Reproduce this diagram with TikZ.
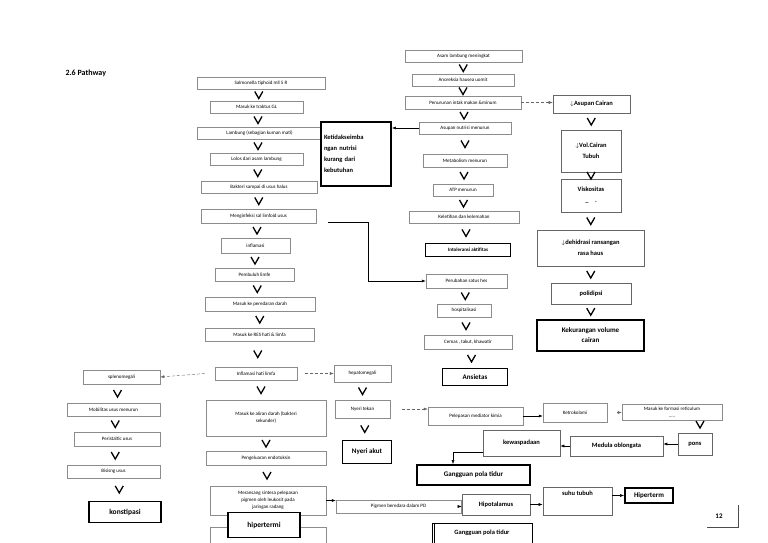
\documentclass[tikz,border=0pt]{standalone}
\usepackage{fontspec}
\setmainfont{Carlito}
\usetikzlibrary{arrows.meta,calc}
\begin{document}
\begin{tikzpicture}[x=1pt,y=-1pt,
 box/.style={draw=black!45,line width=0.5pt,fill=white,inner sep=1pt,align=center,font=\fontsize{5}{7}\selectfont},
 tbox/.style={draw=black,line width=1.8pt,fill=white,inner sep=1pt,align=center,font=\fontsize{7}{10}\selectfont\bfseries},
 rbox/.style={draw=black!60,line width=0.6pt,fill=white,inner sep=1pt,align=center,font=\fontsize{6.5}{11}\selectfont\bfseries},
 chevline/.style={line width=1.3pt,line join=miter},
 arr/.style={line width=0.5pt,-{Latex[length=4pt,width=3pt]}},
 darr/.style={line width=0.4pt,densely dashed,black!60,-{Latex[length=4pt,width=3pt]}}]
\useasboundingbox (0,0) rectangle (768,543);
\newcommand\bx[7]{\node[#1,minimum width={(#5-#3)*1pt},minimum height={(#6-#4)*1pt}] (#2) at ({(#3+#5)/2},{(#4+#6)/2}) {#7};}
\newcommand\chv[2]{\draw[chevline] ($($(#1.south)!0.5!(#2.north)$)+(-4,-3.5)$) -- ($($(#1.south)!0.5!(#2.north)$)+(0,3.5)$) -- ($($(#1.south)!0.5!(#2.north)$)+(4,-3.5)$);}
\node[font=\fontsize{8}{10}\selectfont\bfseries,anchor=west] (title) at (62,73) {2.6 Pathway};
% left column
\bx{box}{a1}{197}{77}{325}{89}{Salmonella tiphoid mll 5 R}
\bx{box}{a2}{210}{101}{303}{113}{Masuk ke traktus GL}
\bx{box}{a3}{197}{127}{322}{139}{Lambung (sebagian kuman mati)}
\bx{box}{a4}{210}{153}{303}{165}{Lolos dari asam lambung}
\bx{box}{a5}{201}{181}{317}{193}{Bakteri sampai di usus halus}
\bx{box}{a6}{201}{209}{316}{223}{Menginfeksi sal limfoid usus}
\bx{box}{a7}{221}{238}{290}{253}{inflamasi}
\bx{box}{a8}{215}{268}{294}{281}{Pembuluh limfe}
\bx{box}{a9}{205}{297}{315}{311}{Masuk ke peredaran darah}
\bx{box}{a10}{205}{328}{314}{341}{Masuk ke RES hati \& limfa}
\bx{box}{a11}{215}{367}{297}{380}{Inflamasi hati limfa}
\foreach \i/\j in {a1/a2,a2/a3,a3/a4,a4/a5,a5/a6,a6/a7,a7/a8,a8/a9,a9/a10,a10/a11} {\chv{\i}{\j}}
\node[tbox,minimum width=70pt,minimum height=64pt,align=left,text width=64pt,font=\fontsize{6.5}{11}\selectfont\bfseries] (k) at (356,154) {Ketidakseimba\\ngan nutrisi\\kurang dari\\kebutuhan};
% middle column
\bx{box}{b1}{405}{50}{522}{62}{Asam lambung meningkat}
\bx{box}{b2}{412}{74}{514}{86}{Anoreksia hausea uomit}
\bx{box}{b3}{405}{96}{521}{109}{Penurunan intak makan \&minum}
\bx{box}{b4}{419}{122}{511}{134}{Asupan nutrisi menurun}
\bx{box}{b5}{423}{154}{507}{167}{Metabolism menurun}
\bx{box}{b6}{433}{184}{493}{196}{ATP menurun}
\bx{box}{b7}{409}{211}{519}{223}{Keletihan dan kelemahan}
\node[tbox,minimum width=85pt,minimum height=13pt,font=\fontsize{5}{7}\selectfont\bfseries] (b8) at (468,250) {Intoleransi aktifitas};
\bx{box}{b9}{426}{274}{507}{288}{Perubahan satus hes}
\bx{box}{b10}{437}{304}{491}{317}{hospitalisasi}
\bx{box}{b11}{424}{335}{512}{349}{Cemas , takut, khawatir}
\node[tbox,minimum width=65pt,minimum height=17pt] (b12) at (475,377) {Ansietas};
\foreach \i/\j in {b1/b2,b2/b3,b3/b4,b4/b5,b5/b6,b6/b7,b7/b8,b9/b10,b10/b11,b11/b12} {\chv{\i}{\j}}
\draw[arr] (b4.west) -- (k.east|-b4.west);
\coordinate (m1) at (368,222);
\draw[arr] (a6.east|-m1) ++(12,0) -- (m1) |- (b9.west);
% right column
\bx{rbox}{c1}{553}{95}{630}{113}{$\downarrow$Asupan Cairan}
\bx{rbox}{c2}{561}{130}{621}{172}{$\downarrow$Vol.Cairan\\Tubuh}
\bx{rbox}{c3}{561}{179}{621}{212}{Viskositas\\\_\quad .}
\bx{rbox}{c4}{537}{230}{644}{266}{$\downarrow$dehidrasi ransangan\\rasa haus}
\bx{rbox}{c5}{551}{283}{631}{304}{polidipsi}
\node[tbox,minimum width=107pt,minimum height=31pt] (c6) at (590.5,335.5) {Kekurangan volume\\cairan};
\foreach \i/\j in {c1/c2,c2/c3,c3/c4,c4/c5,c5/c6} {\chv{\i}{\j}}
\draw[darr] (b3.east) -- (c1.west|-b3.east);
% lower left
\bx{box}{d1}{83}{370}{160}{384}{splenomegali}
\bx{box}{d2}{67}{403}{160}{416}{Mobilitas usus menurun}
\bx{box}{d3}{74}{432}{160}{446}{Peristaltic usus}
\bx{box}{d4}{67}{465}{160}{478}{Bisisng usus}
\node[tbox,minimum width=72pt,minimum height=21pt,font=\fontsize{7.5}{10}\selectfont\bfseries] (d5) at (125,512) {konstipasi};
\foreach \i/\j in {d1/d2,d2/d3,d3/d4,d4/d5} {\chv{\i}{\j}}
\draw[darr] (a11.west) ++(-10,0) -- (d1.east);
% lower middle
\bx{box}{e1}{206}{400}{326}{436}{Masuk ke aliran darah (bakteri\\sekunder)}
\bx{box}{e2}{206}{451}{326}{465}{Pengeluaran endotoksin}
\bx{box}{e3}{210}{486}{326}{515}{Meransang sintesa pelepasan\\pigmen oleh leukosit pada\\jaringan radang}
\bx{box}{e4}{210}{527}{326}{548}{}
\node[tbox,minimum width=72pt,minimum height=25pt,font=\fontsize{7.5}{10}\selectfont\bfseries] (e5) at (264,525) {hipertermi};
\chv{a11}{e1}
\chv{e1}{e2}
\chv{e2}{e3}
\bx{box}{f1}{334}{365}{391}{382}{hepatomegali}
\bx{box}{f2}{335}{400}{390}{418}{Nyeri tekan}
\node[tbox,minimum width=49pt,minimum height=23pt] (f3) at (367,452) {Nyeri akut};
\draw[darr] (a11.east) ++(8,0) -- (f1.west|-a11.east);
\chv{f1}{f2}
\chv{f2}{f3}
% lower right
\bx{box}{g1}{428}{407}{523}{425}{Pelepasan mediator kimia}
\bx{box}{g2}{543}{403}{607}{422}{Ketrokolami}
\bx{box}{g3}{622}{404}{722}{420}{Masuk ke formasi reticulum\\.....}
\bx{rbox}{g4}{678}{433}{712}{455}{pons}
\bx{rbox}{g5}{570}{436}{663}{456}{Medula oblongata}
\bx{rbox}{g6}{483}{430}{560}{456}{kewaspadaan}
\node[tbox,minimum width=113pt,minimum height=20pt] (g7) at (473.5,475) {Gangguan pola tidur};
\draw[darr] (f2.east) ++(12,0) -- (g1.west|-f2.east);
\draw[arr] (g1.east) -- (g2.west|-g1.east);
\draw[darr] (g2.east) ++(10,0) -- (g3.west|-g2.east);
\draw[chevline] (696,421) -- (700,428) -- (704,421);
\draw[arr] (g4.west) -- (g5.east|-g4.west);
\draw[arr] (g5.west) -- (g6.east|-g5.west);
\coordinate (m2) at (453,452);
\draw[arr] (g6.west|-m2) -- (m2) -- (m2|-g7.north);
\bx{box}{h1}{336}{500}{461}{513}{Pigmen beredara dalam PD}
\bx{rbox}{h2}{462}{494}{530}{515}{Hipotalamus}
\node[rbox,minimum width=69pt,minimum height=28pt,anchor=north,inner sep=3pt] (h3) at (577.5,487) {suhu tubuh\\[5pt]};
\node[tbox,minimum width=48pt,minimum height=15pt] (h4) at (649,495.5) {Hiperterm};
\node[rbox,draw=black,line width=1pt,minimum width=100pt,minimum height=20pt] (h5) at (482,533) {Gangguan pola tidur};
\draw[line width=0.8pt] ([xshift=2.5pt]h5.north west) -- ([xshift=2.5pt]h5.south west);
\draw[arr] (e3.east) -- (h1.west|-e3.east);
\draw[arr] (h1.east) -- (h2.west|-h1.east);
\draw[arr] (h2.east) -- (h3.west|-h2.east);
\draw[arr] (h3.east|-h4) -- (h4.west);
% page number
\node[font=\fontsize{7}{8}\selectfont\bfseries] (pg) at (719,516) {12};
\draw[black!70,line width=0.6pt] (707,527) -- (738,527) -- (738,505);
\end{tikzpicture}
\end{document}
